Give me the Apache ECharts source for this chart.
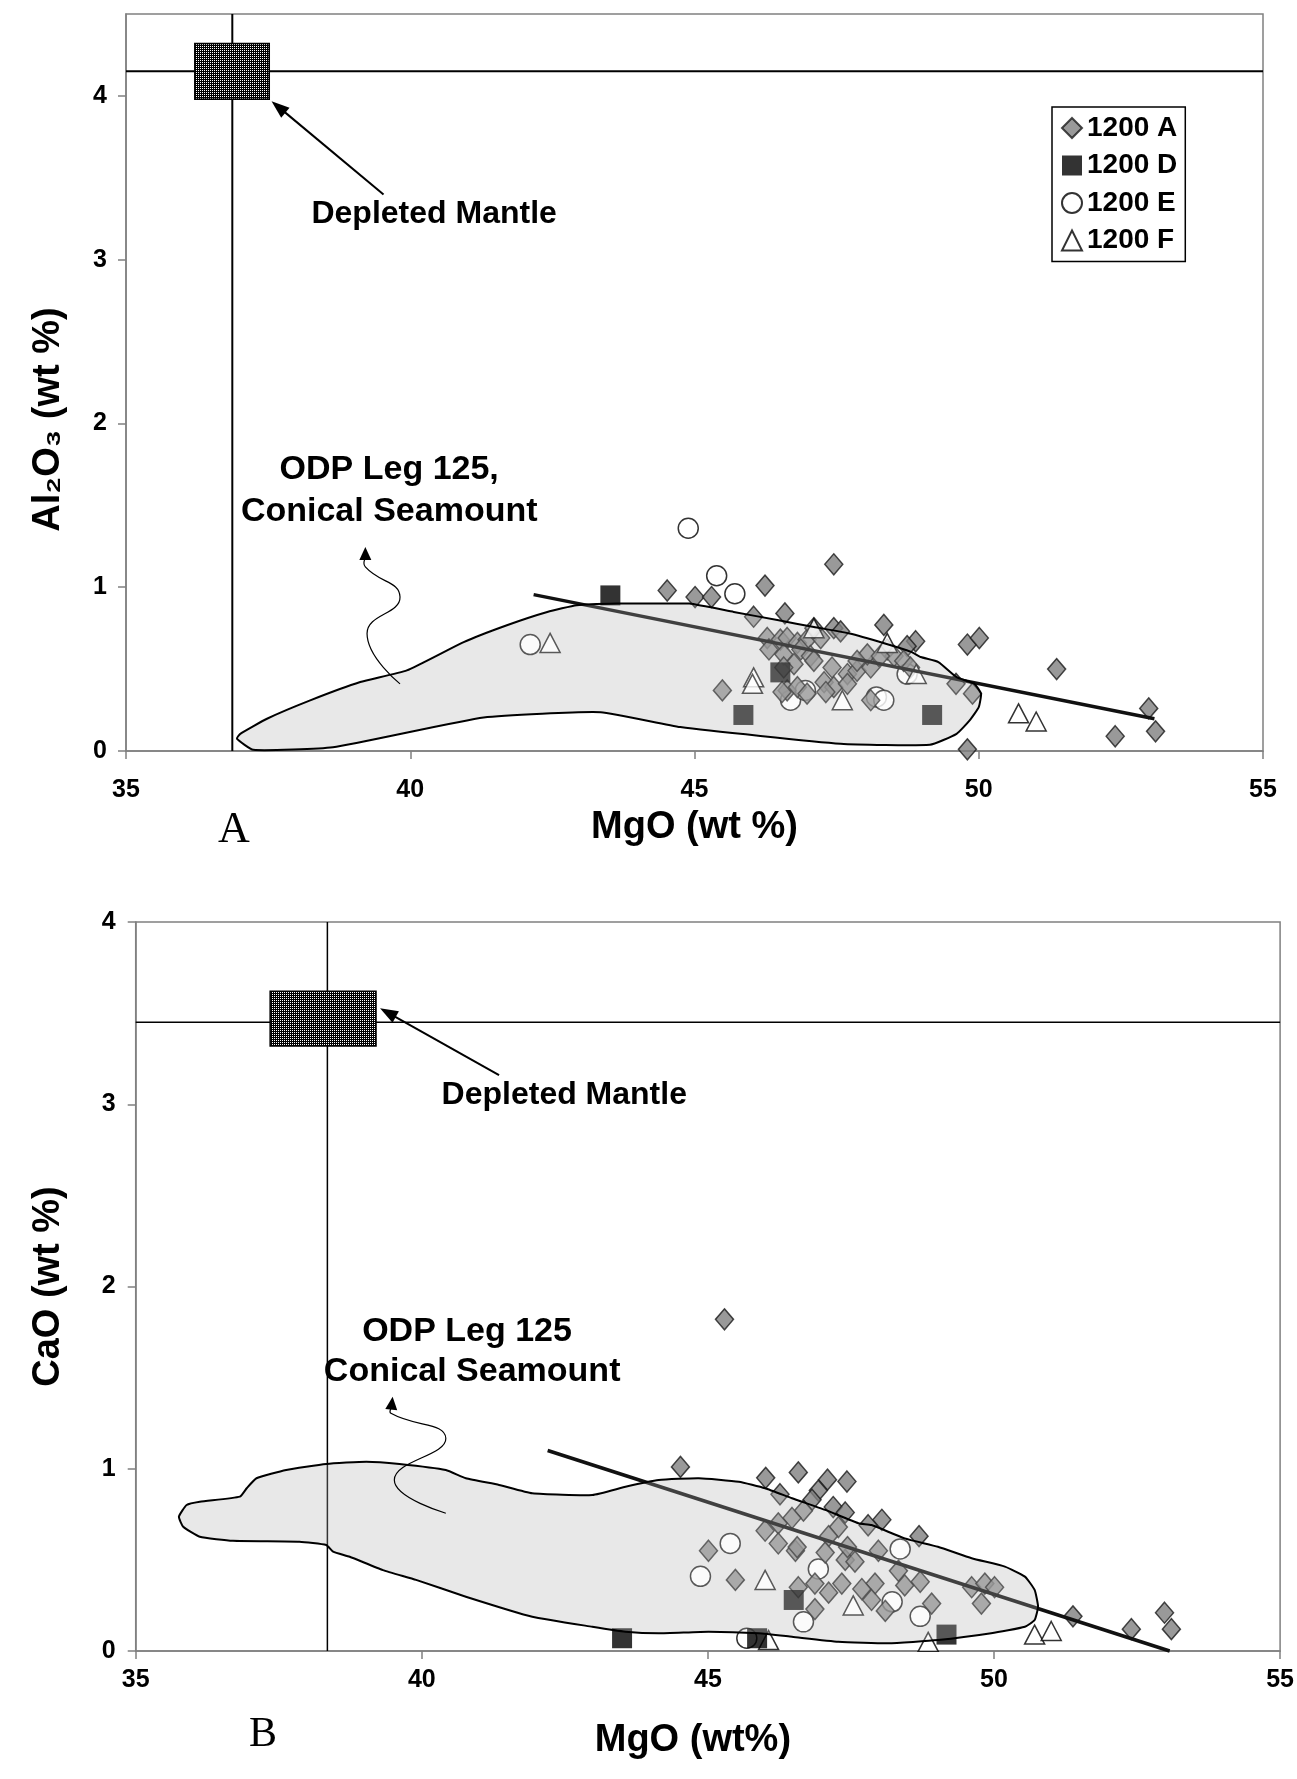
<!DOCTYPE html>
<html><head><meta charset="utf-8">
<script src="https://cdn.jsdelivr.net/npm/echarts@6/dist/echarts.min.js"></script>
<style>html,body{margin:0;padding:0;background:#fff}#c{width:1297px;height:1779px}</style>
</head><body><div id="c"></div>
<script>
// ================= DATA =================
const xTicks = [35, 40, 45, 50, 55];
const yTicksA = [0, 1, 2, 3, 4];
const yTicksB = [0, 1, 2, 3, 4];
const seriesNames = ['1200 A', '1200 D', '1200 E', '1200 F'];

// Panel A : MgO vs Al2O3
const a_1200A = [[44.52,0.98],[45.01,0.94],[45.30,0.94],[46.24,1.01],[47.45,1.14],[46.04,0.82],[46.59,0.84],[48.33,0.77],[48.89,0.67],[49.80,0.65],[50.01,0.69],[45.49,0.37],[49.80,0.01],[49.60,0.41],[49.89,0.35],
 [46.28,0.69],[46.51,0.68],[46.63,0.69],[46.81,0.66],[46.98,0.68],[47.22,0.69],[47.45,0.75],[47.57,0.73],[47.10,0.75],[46.31,0.62],[46.57,0.59],[46.87,0.62],[47.04,0.58],[46.75,0.53],[47.10,0.55],[47.42,0.51],[47.69,0.47],[47.86,0.49],[48.10,0.51],[48.04,0.59],[48.39,0.62],[48.51,0.58],[48.74,0.64],[48.68,0.55],[48.80,0.51],[47.28,0.42],[47.45,0.39],[47.69,0.41],[46.63,0.37],[46.81,0.39],[46.98,0.35],[46.57,0.51],[48.10,0.31],[48.27,0.58],[47.86,0.55],[47.31,0.36],[46.54,0.36],
 [51.37,0.50],[52.99,0.26],[52.40,0.09],[53.11,0.12]];
const a_1200D = [[43.52,0.95],[46.51,0.48],[45.86,0.22],[49.18,0.22]];
const a_1200E = [[44.89,1.36],[45.39,1.07],[45.71,0.96],[42.11,0.65],[48.74,0.47],[46.69,0.31],[46.95,0.37],[48.20,0.33],[48.33,0.31]];
const a_1200F = [[42.46,0.66],[46.04,0.45],[46.02,0.41],[47.60,0.31],[48.90,0.47],[50.70,0.23],[51.01,0.18],[47.10,0.75],[48.39,0.66]];
const trendA = [[42.17,0.955],[53.09,0.197]];
const dmCrossA = [36.87, 4.15];
const dmBoxA = [[36.21,3.98],[37.52,4.32]];
const fieldA = [[36.95,0.075],[37.24,0.007],[38.64,0.023],[41.29,0.205],[43.35,0.237],[44.75,0.146],[47.57,0.044],[49.14,0.038],[49.61,0.105],[49.84,0.187],[50.00,0.268],[50.04,0.35],[49.92,0.411],[49.61,0.451],[49.29,0.543],[48.98,0.574],[48.82,0.604],[48.35,0.656],[47.73,0.717],[47.10,0.757],[46.48,0.798],[45.69,0.849],[44.91,0.900],[44.36,0.900],[43.64,0.900],[42.93,0.89],[42.41,0.849],[41.70,0.768],[40.94,0.665],[39.94,0.492],[39.12,0.421],[38.24,0.309],[37.48,0.197],[37.01,0.105]];

// Panel B : MgO vs CaO
const b_1200A = [[45.29,1.82],[44.52,1.01],[46.01,0.95],[46.58,0.98],[47.09,0.94],[47.43,0.93],[46.93,0.88],[46.26,0.86],[46.82,0.83],[47.19,0.79],[47.40,0.76],[46.67,0.77],[46.47,0.73],[46.23,0.70],[46.00,0.66],[47.28,0.68],[47.11,0.63],[46.23,0.59],[46.53,0.55],[47.05,0.54],[47.40,0.50],[45.01,0.55],[45.48,0.39],[46.58,0.35],[46.87,0.37],[47.11,0.32],[46.87,0.23],[47.34,0.37],
 [48.04,0.72],[47.80,0.69],[48.69,0.63],[47.98,0.55],[47.57,0.49],[48.33,0.44],[48.71,0.38],[48.44,0.36],[47.92,0.37],[47.69,0.34],[47.86,0.28],[48.10,0.22],[48.91,0.26],[49.61,0.35],[49.84,0.37],[50.01,0.35],[49.78,0.26],[47.44,0.57],[46.56,0.57],
 [51.38,0.19],[52.40,0.12],[52.98,0.21],[53.10,0.12]];
const b_1200D = [[43.50,0.07],[45.86,0.07],[46.50,0.28],[49.17,0.09]];
const b_1200E = [[45.39,0.59],[44.87,0.41],[45.68,0.07],[46.67,0.16],[46.93,0.45],[48.36,0.56],[48.22,0.27],[48.71,0.19]];
const b_1200F = [[46.00,0.39],[46.06,0.06],[47.54,0.25],[48.85,0.05],[50.71,0.09],[51.00,0.11]];
const trendB = [[42.20,1.10],[53.07,0.00]];
const dmCrossB = [38.35, 3.45];
const dmBoxB = [[37.35,3.32],[39.20,3.62]];
const fieldB = [[35.755,0.737],[35.89,0.801],[36.12,0.819],[36.82,0.847],[36.94,0.893],[37.11,0.948],[37.63,0.993],[38.33,1.026],[39.03,1.039],[39.61,1.026],[40.42,0.993],[40.77,0.948],[41.35,0.911],[41.93,0.865],[42.98,0.856],[43.56,0.901],[44.14,0.938],[44.84,0.948],[45.54,0.929],[46.00,0.893],[46.47,0.838],[47.05,0.774],[47.63,0.701],[47.86,0.691],[48.44,0.618],[49.02,0.572],[49.61,0.509],[50.19,0.463],[50.54,0.408],[50.71,0.335],[50.77,0.243],[50.71,0.170],[50.54,0.133],[49.95,0.097],[49.02,0.060],[48.15,0.042],[47.28,0.051],[46.47,0.078],[45.89,0.097],[45.01,0.106],[44.14,0.097],[43.56,0.106],[42.98,0.133],[41.93,0.188],[40.77,0.298],[39.90,0.390],[39.32,0.444],[38.74,0.517],[38.45,0.545],[38.33,0.582],[37.86,0.600],[36.70,0.605],[36.12,0.627],[35.83,0.682]];

// ================= RENDER =================
const FONT = '"Liberation Sans", Arial, Helvetica, sans-serif';
const chart = echarts.init(document.getElementById('c'), null, {renderer: 'canvas'});

// checker pattern for Depleted Mantle box
const pat = document.createElement('canvas');
pat.width = 2; pat.height = 2;
(function(){ const g = pat.getContext('2d'); g.fillStyle = '#000'; g.fillRect(0,0,2,2); g.fillStyle = '#fff'; g.fillRect(0,0,1,1); })();

function polySeries(gi, poly, fill, stroke, lw, z){
  return {type:'custom', xAxisIndex:gi, yAxisIndex:gi, z, silent:true, clip:false, data:[poly[0]],
    renderItem:(p, api)=>({type:'polygon', shape:{points: poly.map(q=>api.coord(q)), smooth:0.15}, style:{fill, stroke, lineWidth:lw}})};
}
function boxSeries(gi, box, z){
  return {type:'custom', xAxisIndex:gi, yAxisIndex:gi, z, silent:true, clip:false, data:[box[0]],
    renderItem:(p, api)=>{ const p0 = api.coord(box[0]), p1 = api.coord(box[1]);
      return {type:'rect', shape:{x:Math.min(p0[0],p1[0]), y:Math.min(p0[1],p1[1]), width:Math.abs(p1[0]-p0[0]), height:Math.abs(p1[1]-p0[1])},
        style:{fill:{image:pat, repeat:'repeat'}, stroke:'#000', lineWidth:1.5}}; }};
}
function arrowEls(api, pts, smooth, headLen, headW, lw){
  const px = pts.map(p=>api.coord(p)); const n = px.length;
  const tip = px[n-1], prev = px[n-2];
  const dx = tip[0]-prev[0], dy = tip[1]-prev[1], L = Math.hypot(dx,dy);
  const ux = dx/L, uy = dy/L, nx = -uy, ny = ux;
  const bx = tip[0]-ux*headLen, by = tip[1]-uy*headLen;
  const line = px.slice(0, n-1).concat([[bx+ux*2, by+uy*2]]);
  return [
    {type:'polyline', shape:{points: line, smooth}, style:{stroke:'#000', lineWidth:lw, fill:null}},
    {type:'polygon', shape:{points:[tip,[bx+nx*headW/2, by+ny*headW/2],[bx-nx*headW/2, by-ny*headW/2]]}, style:{fill:'#000'}}
  ];
}
function textEl(api, pos, text, size){
  const c = api.coord(pos);
  return {type:'text', x:c[0], y:c[1], style:{text, fill:'#000', fontSize:size, fontWeight:'bold', fontFamily:FONT,
    align:'center', verticalAlign:'middle', textAlign:'center', textVerticalAlign:'middle'}};
}
function annoSeries(gi, build){
  return {type:'custom', xAxisIndex:gi, yAxisIndex:gi, z:20, silent:true, clip:false, data:[[40,1]],
    renderItem:(p, api)=>({type:'group', children: build(api)})};
}
function lineSeries(gi, data, color, width, z){
  return {type:'line', xAxisIndex:gi, yAxisIndex:gi, data, z, silent:true, symbol:'none', lineStyle:{color, width}, clip:false};
}
function scatter(gi, name, data){
  const st = {
    '1200 A': {symbol:'diamond', size:[18,21], itemStyle:{color:'#808080', borderColor:'#1a1a1a', borderWidth:1.5}, z:6},
    '1200 D': {symbol:'rect', size:[20,20], itemStyle:{color:'#000', borderColor:'#000', borderWidth:0}, z:8},
    '1200 E': {symbol:'circle', size:[20,20], itemStyle:{color:'#fff', borderColor:'#000', borderWidth:1.5}, z:5},
    '1200 F': {symbol:'triangle', size:[20,19], itemStyle:{color:'#fff', borderColor:'#000', borderWidth:1.5}, z:7}
  }[name];
  return {type:'scatter', name, xAxisIndex:gi, yAxisIndex:gi, data, symbol:st.symbol, symbolSize:st.size, itemStyle:st.itemStyle, z:st.z, silent:true, clip:false};
}
const axisLine = {lineStyle:{color:'#808080', width:1.5}};
const tickStyle = {length:8, lineStyle:{color:'#808080', width:1.5}};
const tickLabel = (margin)=>({margin, fontSize:25, fontWeight:'bold', fontFamily:FONT, color:'#000'});
const nameStyle = (pad)=>({fontSize:38, fontWeight:'bold', fontFamily:FONT, color:'#000', padding:pad});

const option = {
  backgroundColor:'#fff',
  animation:false,
  grid:[
    {left:126, top:14, width:1137, height:737, show:true, borderColor:'#808080', borderWidth:1.5},
    {left:135.7, top:922, width:1147.3, height:729, show:true, borderColor:'#808080', borderWidth:1.5}
  ],
  xAxis:[
    {type:'value', gridIndex:0, min:35, max:55, interval:5, axisLine, axisTick:{...tickStyle, customValues:xTicks}, axisLabel:{...tickLabel(27), customValues:xTicks}, splitLine:{show:false},
     name:'MgO (wt %)', nameLocation:'middle', nameGap:58, nameTextStyle:nameStyle([0,0,0,0])},
    {type:'value', gridIndex:1, min:35, max:55, interval:5, axisLine, axisTick:{...tickStyle, customValues:xTicks}, axisLabel:{...tickLabel(17), customValues:xTicks}, splitLine:{show:false},
     name:'MgO (wt%)', nameLocation:'middle', nameGap:71, nameTextStyle:nameStyle([0,30,0,0])}
  ],
  yAxis:[
    {type:'value', gridIndex:0, min:0, max:4.5, interval:1, axisLine, axisTick:{...tickStyle, customValues:yTicksA}, axisLabel:{...tickLabel(19), customValues:yTicksA}, splitLine:{show:false},
     name:'Al₂O₃ (wt %)', nameLocation:'middle', nameGap:58, nameTextStyle:nameStyle([0,74,0,0])},
    {type:'value', gridIndex:1, min:0, max:4, interval:1, axisLine, axisTick:{...tickStyle, customValues:yTicksB}, axisLabel:{...tickLabel(20), customValues:yTicksB}, splitLine:{show:false},
     name:'CaO (wt %)', nameLocation:'middle', nameGap:68, nameTextStyle:nameStyle([0,0,0,0])}
  ],
  legend:{data:seriesNames, orient:'vertical', left:1052, top:107, padding:[7,8,7,9], itemWidth:20, itemHeight:20, itemGap:9.5,
    backgroundColor:'#fff', borderColor:'#000', borderWidth:1.5, borderRadius:0, selectedMode:false, z:30,
    textStyle:{fontSize:28, fontWeight:'bold', fontFamily:FONT, color:'#000', lineHeight:28}},
  graphic:[
    {type:'text', left:218, top:808, style:{text:'A', fontSize:44, fontFamily:'"Liberation Serif", "Times New Roman", serif', fill:'#000'}},
    {type:'text', left:249, top:1714, style:{text:'B', fontSize:42, fontFamily:'"Liberation Serif", "Times New Roman", serif', fill:'#000'}}
  ],
  series:[
    // panel A
    polySeries(0, fieldA, '#e3e3e3', null, 0, 1),
    lineSeries(0, [[dmCrossA[0],0],[dmCrossA[0],4.5]], '#000', 2, 2),
    lineSeries(0, [[35,dmCrossA[1]],[55,dmCrossA[1]]], '#000', 2, 2),
    boxSeries(0, dmBoxA, 3),
    scatter(0, '1200 E', a_1200E),
    scatter(0, '1200 A', a_1200A),
    scatter(0, '1200 F', a_1200F),
    scatter(0, '1200 D', a_1200D),
    lineSeries(0, trendA, '#111', 3.5, 9),
    polySeries(0, fieldA, 'rgba(255,255,255,0.2)', '#000', 2, 10),
    annoSeries(0, api=>[
      textEl(api, [40.42,3.275], 'Depleted Mantle', 32),
      ...arrowEls(api, [[39.53,3.398],[37.56,3.968]], 0, 18, 13, 2),
      textEl(api, [39.63,1.716], 'ODP Leg 125,', 34),
      textEl(api, [39.63,1.459], 'Conical Seamount', 34),
      ...arrowEls(api, [[39.82,0.41],[39.24,0.717],[39.82,0.94],[39.21,1.124],[39.21,1.246]], 0.5, 13, 12, 1.2)
    ]),
    // panel B
    polySeries(1, fieldB, '#e3e3e3', null, 0, 1),
    lineSeries(1, [[dmCrossB[0],0],[dmCrossB[0],4]], '#000', 1.5, 2),
    lineSeries(1, [[35,dmCrossB[1]],[55,dmCrossB[1]]], '#000', 1.5, 2),
    boxSeries(1, dmBoxB, 3),
    scatter(1, '1200 E', b_1200E),
    scatter(1, '1200 A', b_1200A),
    scatter(1, '1200 F', b_1200F),
    scatter(1, '1200 D', b_1200D),
    lineSeries(1, trendB, '#111', 3.5, 9),
    polySeries(1, fieldB, 'rgba(255,255,255,0.2)', '#000', 2, 10),
    annoSeries(1, api=>[
      textEl(api, [42.49,3.051], 'Depleted Mantle', 32),
      ...arrowEls(api, [[41.35,3.16],[39.27,3.527]], 0, 18, 13, 2),
      textEl(api, [40.79,1.75], 'ODP Leg 125', 34),
      textEl(api, [40.88,1.531], 'Conical Seamount', 34),
      ...arrowEls(api, [[40.42,0.756],[39.52,0.938],[40.42,1.167],[39.46,1.304],[39.49,1.395]], 0.5, 13, 12, 1.2)
    ])
  ]
};
chart.setOption(option);
</script></body></html>
